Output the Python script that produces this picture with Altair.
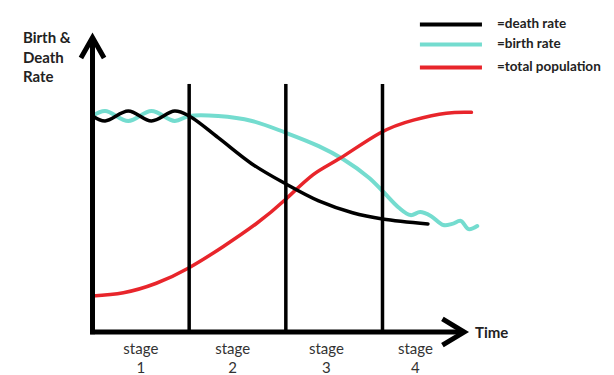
import altair as alt
import pandas as pd

# ---------------- data (time in stage units, rate in relative units) ----------------
death_t = [0, 0.13, 0.37, 0.61, 0.85, 1.0, 1.30, 1.65, 2.0, 2.34, 2.69, 3.0, 3.47]
death_r = [100, 97.7, 102.3, 97.7, 102.3, 100, 89.9, 77.7, 68.4, 60.5, 55.0, 52.1, 49.8]

birth_t = [0, 0.13, 0.37, 0.61, 0.85, 1.0, 1.30, 1.65, 2.0, 2.34, 2.59, 2.86, 3.0,
           3.17, 3.29, 3.39, 3.50, 3.63, 3.72, 3.81, 3.89, 3.98]
birth_r = [100, 102.3, 97.7, 102.3, 97.7, 100, 100, 97.7, 92.2, 86.0, 80.0, 71.3, 65.1,
           57.3, 53.9, 55.3, 53.5, 49.3, 49.8, 51.2, 47.4, 48.8]

pop_t = [0, 0.32, 0.66, 0.99, 1.35, 1.70, 1.99, 2.28, 2.56, 2.97, 3.32, 3.66, 3.92]
pop_r = [16.3, 17.8, 22.2, 29.2, 39.2, 50.1, 60.9, 72.6, 80.3, 92.0, 98.1, 101.3, 101.7]

stage_bounds = [1, 2, 3]
stage_top = 114.9
stage_words = ["stage", "stage", "stage", "stage"]
stage_nums = ["1", "2", "3", "4"]
stage_label_t = [0.50, 1.45, 2.42, 3.34]

legend_labels = ["=death rate", "=birth rate", "=total population"]
legend_colors = ["#000000", "#74DCCF", "#E8252B"]
legend_r = [142.6, 133.3, 122.6]

y_title_lines = ["Birth &", "Death", "Rate"]
y_title_r = [136.3, 127.0, 118.1]

# ---------------- scales ----------------
xs = alt.Scale(domain=[-0.957, 5.395], nice=False, zero=False)
ys = alt.Scale(domain=[-20.47, 153.95], nice=False, zero=False)
FONT = "Lato"


def X(f="t"):
    return alt.X(f"{f}:Q", scale=xs, axis=None)


def Y(f="r"):
    return alt.Y(f"{f}:Q", scale=ys, axis=None)


def curve(t, r, color, w, interp):
    df = pd.DataFrame({"t": t, "r": r, "i": list(range(len(t)))})
    return alt.Chart(df).mark_line(
        color=color, strokeWidth=w, interpolate=interp, strokeCap="round"
    ).encode(x=X(), y=Y(), order="i:Q")


birth = curve(birth_t, birth_r, legend_colors[1], 4, "catmull-rom")
pop = curve(pop_t, pop_r, legend_colors[2], 3.5, "natural")
death = curve(death_t, death_r, legend_colors[0], 3.5, "catmull-rom")

stage_df = pd.DataFrame({"t": stage_bounds, "r0": [0] * 3, "r1": [stage_top] * 3})
stages = alt.Chart(stage_df).mark_rule(color="black", strokeWidth=3.5).encode(
    x=X(), y=Y("r0"), y2="r1:Q"
)

yaxis_df = pd.DataFrame({"t": [0], "r0": [-1.5], "r1": [136.0]})
yaxis = alt.Chart(yaxis_df).mark_rule(color="black", strokeWidth=5).encode(
    x=X(), y=Y("r0"), y2="r1:Q"
)
xaxis_df = pd.DataFrame({"t0": [-0.025], "t1": [3.83], "r": [-0.5]})
xaxis = alt.Chart(xaxis_df).mark_rule(color="black", strokeWidth=5).encode(
    x=X("t0"), x2="t1:Q", y=Y()
)

arrow_df = pd.DataFrame({
    "g": ["v", "v", "v", "h", "h", "h"],
    "i": [0, 1, 2, 0, 1, 2],
    "t": [-0.12, 0, 0.12, 3.62, 3.845, 3.62],
    "r": [127.0, 136.5, 127.0, 5.6, -0.5, -6.6],
})
arrows = alt.Chart(arrow_df).mark_line(
    color="black", strokeWidth=5, strokeJoin="miter", strokeCap="butt"
).encode(x=X(), y=Y(), detail="g:N", order="i:Q")

ytitle_df = pd.DataFrame({"t": [-0.72] * 3, "r": y_title_r, "txt": y_title_lines})
ytitle = alt.Chart(ytitle_df).mark_text(
    align="left", baseline="middle", font=FONT, fontWeight="bold", fontSize=15, color="#222222"
).encode(x=X(), y=Y(), text="txt:N")

time_df = pd.DataFrame({"t": [3.957], "r": [-0.9], "txt": ["Time"]})
time_lbl = alt.Chart(time_df).mark_text(
    align="left", baseline="middle", font=FONT, fontWeight="bold", fontSize=15, color="#222222"
).encode(x=X(), y=Y(), text="txt:N")

stage_lbl_df = pd.DataFrame({
    "t": stage_label_t, "w": stage_words, "n": stage_nums,
    "r1": [-8.4] * 4, "r2": [-17.2] * 4,
})
stage_w = alt.Chart(stage_lbl_df).mark_text(
    align="center", baseline="middle", font=FONT, fontSize=15, color="#333333"
).encode(x=X(), y=Y("r1"), text="w:N")
stage_n = alt.Chart(stage_lbl_df).mark_text(
    align="center", baseline="middle", font=FONT, fontSize=15, color="#333333"
).encode(x=X(), y=Y("r2"), text="n:N")

leg_df = pd.DataFrame({
    "lab": legend_labels, "col": legend_colors, "r": legend_r,
    "t0": [3.387] * 3, "t1": [4.029] * 3, "tt": [4.184] * 3,
})
cscale = alt.Scale(domain=legend_labels, range=legend_colors)
leg_lines = alt.Chart(leg_df).mark_rule(strokeWidth=4).encode(
    x=X("t0"), x2="t1:Q", y=Y(), color=alt.Color("lab:N", scale=cscale, legend=None)
)
leg_text = alt.Chart(leg_df).mark_text(
    align="left", baseline="middle", font=FONT, fontWeight="bold", fontSize=13.5, color="#222222"
).encode(x=X("tt"), y=Y(), text="lab:N")

chart = alt.layer(
    birth, pop, death, stages, xaxis, yaxis, arrows,
    ytitle, time_lbl, stage_w, stage_n, leg_lines, leg_text
).properties(
    width=614, height=375, padding=0, autosize="none", background="white"
).configure_view(stroke=None)

chart.save("out.html", embed_options={"renderer": "svg", "actions": False})
